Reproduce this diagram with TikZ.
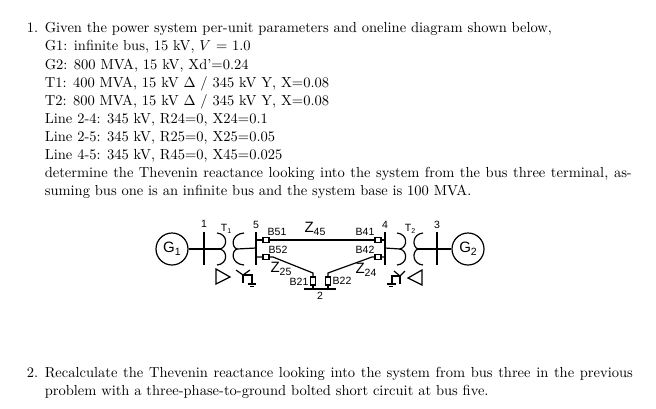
\documentclass[tikz,border=0pt]{standalone}
\usepackage{fontspec}
\newfontfamily\diagfont{Liberation Sans}
\newcommand{\zsub}[1]{\raisebox{-2.5pt}{\fontsize{10.5}{12}\selectfont #1}}
\newcommand{\tsub}[1]{\raisebox{-1.5pt}{\fontsize{7}{8}\selectfont #1}}
\tikzset{
  txtline/.style={anchor=base west, inner sep=0pt, scale=1.452},
  diaglab/.style={inner sep=0pt, font=\diagfont\fontsize{10.5}{12}\selectfont},
  zlab/.style={inner sep=0pt, font=\diagfont\fontsize{15}{16}\selectfont},
  gen/.style={draw, circle, line width=1.2pt, minimum size=32pt, inner sep=0pt, font=\diagfont\fontsize{15}{16}\selectfont},
  busbar/.style={fill=black, inner sep=0pt, minimum width=1.8pt, minimum height=33pt},
  hbreaker/.style={draw, fill=white, line width=1.2pt, inner sep=0pt, minimum width=6pt, minimum height=5pt},
  vbreaker/.style={draw, fill=white, line width=1.2pt, inner sep=0pt, minimum width=4.5pt, minimum height=8pt},
  wire/.style={line width=1.2pt}
}
\begin{document}
\begin{tikzpicture}[x=1pt, y=-1pt]
\useasboundingbox (0,0) rectangle (656,408);

% Question text, one node per line
\node [txtline] (num1) at (26.5,32) {1.};
\node [txtline] (par1) at (44.5,32) {Given the power system per-unit parameters and oneline diagram shown below,};
\foreach \id/\ypos/\lab in {
  2/50/{G1: infinite bus, 15 kV, $V$ = 1.0},
  3/69/{G2: 800 MVA, 15 kV, Xd’=0.24},
  4/87/{T1: 400 MVA, 15 kV $\Delta$ / 345 kV Y, X=0.08},
  5/105/{T2: 800 MVA, 15 kV $\Delta$ / 345 kV Y, X=0.08},
  6/123/{Line 2-4: 345 kV, R24=0, X24=0.1},
  7/141/{Line 2-5: 345 kV, R25=0, X25=0.05},
  8/159/{Line 4-5: 345 kV, R45=0, X45=0.025},
  10/195/{suming bus one is an infinite bus and the system base is 100 MVA.}} {
  \node [txtline] (par\id) at (44.5,\ypos) {\lab};
}
\node [txtline] (par9) at (44.5,177) {\makebox[404.3pt][s]{determine the Thevenin reactance looking into the system from the bus three terminal, as-}};
\node [txtline] (num2) at (26.5,377) {2.};
\node [txtline] (par11) at (44.5,377) {\makebox[405pt][s]{Recalculate the Thevenin reactance looking into the system from bus three in the previous}};
\node [txtline] (par12) at (44.5,395) {problem with a three-phase-to-ground bolted short circuit at bus five.};

% Generators and buses
\node [gen] (G1) at (172,249) {G\zsub{1}};
\node [gen] (G2) at (468,249) {G\zsub{2}};
\node [busbar] (bus1) at (204,248) {};
\node [busbar] (bus5) at (256,248) {};
\node [busbar] (bus4) at (385,248) {};
\node [busbar] (bus3) at (437,248) {};
\node [fill=black, inner sep=0pt, minimum width=32pt, minimum height=1.8pt] (bus2) at (320,289) {};

% Breakers
\node [hbreaker] (B51box) at (266,240) {};
\node [hbreaker] (B52box) at (266,257) {};
\node [hbreaker] (B41box) at (378,240) {};
\node [hbreaker] (B42box) at (378,257) {};
\node [vbreaker] (B21box) at (313,281) {};
\node [vbreaker] (B22box) at (328,281) {};

% Transformer windings
\coordinate (T1a) at (220,249);
\coordinate (T1b) at (237,249);
\coordinate (T2a) at (400,249);
\coordinate (T2b) at (418,249);
\draw [wire] (217,233) .. controls (228,234) and (228,247) .. (T1a)
  .. controls (228,251) and (228,264) .. (217,265);
\draw [wire] (244,233) .. controls (231,234) and (231,247) .. (T1b)
  .. controls (231,251) and (231,264) .. (244,265);
\draw [wire] (397,233) .. controls (408,234) and (408,247) .. (T2a)
  .. controls (408,251) and (408,264) .. (397,265);
\draw [wire] (423,233) .. controls (412,234) and (412,247) .. (T2b)
  .. controls (412,251) and (412,264) .. (423,265);

% Lines
\coordinate (B52elbow) at (273,257);
\coordinate (B21elbow) at (313,273);
\coordinate (B22elbow) at (328,273);
\coordinate (B42elbow) at (372,257);
\draw [wire] (G1) -- (T1a);
\draw [wire] (T1b) -- (bus5.center);
\draw [wire] (bus4.center) -- (T2a);
\draw [wire] (T2b) -- (G2);
\draw [wire] (bus5 |- B51box) -- (B51box) -- (B41box) -- (bus4 |- B41box);
\draw [wire] (bus5 |- B52box) -- (B52box) -- (B52elbow) -- (B21elbow) -- (B21box.north);
\draw [wire] (bus4 |- B42box) -- (B42box) -- (B42elbow) -- (B22elbow) -- (B22box.north);
\draw [wire] (B21box.south) -- (B21box |- bus2);
\draw [wire] (B22box.south) -- (B22box |- bus2);

% Delta and grounded wye symbols
\draw [wire] (216,269) -- (216,284) -- (230,277) -- cycle;
\draw [wire] (422,270) -- (422,285) -- (408,278) -- cycle;
\draw [wire] (236,270) -- (243,275) -- (250,270);
\draw [wire] (243,275) -- (243,283);
\draw [wire] (243,275) -- (252,275) -- (252,284);
\draw [wire] (248,284) -- (256,284);
\draw [wire] (250,286.5) -- (254,286.5);
\draw [wire] (394,271) -- (400,276) -- (405,271);
\draw [wire] (400,276) -- (400,284);
\draw [wire] (400,276) -- (392,276) -- (392,284);
\draw [wire] (387,284) -- (396,284);
\draw [wire] (389,286.5) -- (393,286.5);

% Labels
\foreach \id/\xpos/\ypos/\lab in {
  n1/204/224/1, n5/256/225/5, n4/385/225/4, n3/437/225/3, n2/320/296/2,
  T1/226/229/{T\tsub{1}}, T2/410/229/{T\tsub{2}},
  B51/277/232/B51, B52/278/250/B52, B41/365/232/B41, B42/365/250/B42,
  B21/299/282/B21, B22/342/281/B22} {
  \node [diaglab] (lab\id) at (\xpos,\ypos) {\lab};
}
\node [zlab] (Z45) at (315,229) {Z\zsub{45}};
\node [zlab] (Z25) at (281,269) {Z\zsub{25}};
\node [zlab] (Z24) at (366,270) {Z\zsub{24}};

\end{tikzpicture}
\end{document}
